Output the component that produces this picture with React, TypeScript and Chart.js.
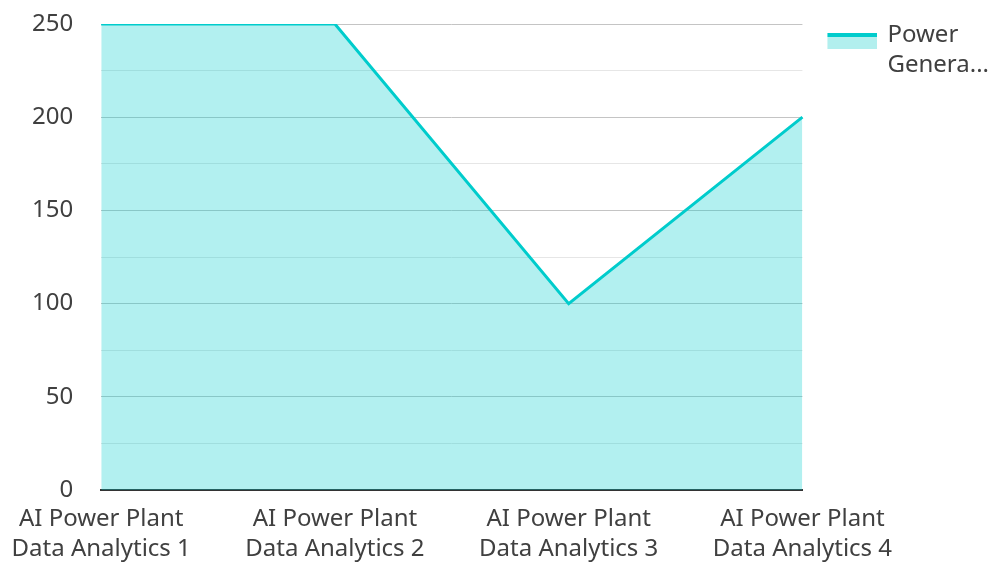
import React, { useEffect, useRef } from 'react';
import { Chart, registerables } from 'chart.js';

Chart.register(...registerables);

const categories: string[][] = [
  ['AI Power Plant', 'Data Analytics 1'],
  ['AI Power Plant', 'Data Analytics 2'],
  ['AI Power Plant', 'Data Analytics 3'],
  ['AI Power Plant', 'Data Analytics 4'],
];
const seriesLabel = 'Power Generation';
const powerValues = [250, 250, 100, 200];
const yMin = 0;
const yMax = 250;
const yStep = 25;
const yLabelStep = 50;

const LINE = '#00CCCC';
const FILL = 'rgba(0, 204, 204, 0.3)';
const TEXT = '#404040';
const FONT = "'Noto Sans', 'Open Sans', sans-serif";
const FONT_SPEC = { family: FONT, size: 24, lineHeight: 1.25 };

function legendText(label: string): string[] {
  const words = label.split(' ');
  const first = words[0];
  const rest = words.slice(1).join(' ');
  return [first, rest.length > 6 ? rest.slice(0, 6) + '...' : rest];
}

function makeLegendSwatch(): HTMLCanvasElement {
  const c = document.createElement('canvas');
  c.width = 54;
  c.height = 28;
  const ctx = c.getContext('2d')!;
  ctx.fillStyle = '#B2EFEE';
  ctx.fillRect(4, 12, 50, 16);
  ctx.fillStyle = LINE;
  ctx.fillRect(4, 12, 50, 4);
  return c;
}

export default function App() {
  const ref = useRef<HTMLCanvasElement | null>(null);

  useEffect(() => {
    if (!ref.current) return;
    const swatch = makeLegendSwatch();
    const chart = new Chart(ref.current, {
      type: 'line',
      data: {
        labels: categories,
        datasets: [
          {
            label: seriesLabel,
            data: powerValues,
            borderColor: LINE,
            backgroundColor: FILL,
            borderWidth: 3,
            fill: 'origin',
            pointRadius: 0,
            pointHoverRadius: 0,
            tension: 0,
          },
        ],
      },
      options: {
        animation: false,
        responsive: true,
        maintainAspectRatio: false,
        layout: { padding: { left: 23, right: -7, top: 0, bottom: 0 } },
        plugins: {
          tooltip: { enabled: false },
          legend: {
            position: 'right',
            align: 'start',
            labels: {
              color: TEXT,
              font: FONT_SPEC,
              usePointStyle: true,
              pointStyleWidth: 50,
              padding: 23,
              generateLabels: (ch: any) =>
                ch.data.datasets.map((ds: any, i: number) => ({
                  text: legendText(ds.label),
                  pointStyle: swatch,
                  fillStyle: FILL,
                  strokeStyle: LINE,
                  lineWidth: 0,
                  hidden: false,
                  datasetIndex: i,
                  fontColor: TEXT,
                })),
            },
          },
        },
        scales: {
          x: {
            grid: {
              display: true,
              drawOnChartArea: false,
              drawTicks: true,
              tickLength: 14,
              color: 'rgba(0,0,0,0)',
              tickColor: 'rgba(0,0,0,0)',
            },
            border: { display: true, color: '#333333', width: 2 },
            ticks: {
              color: TEXT,
              font: FONT_SPEC,
              padding: 0,
              maxRotation: 0,
              autoSkip: false,
            },
          },
          y: {
            min: yMin,
            max: yMax,
            grid: {
              drawTicks: true,
              tickLength: 19,
              tickColor: 'rgba(0,0,0,0)',
              color: (c: any) =>
                c.tick && c.tick.value % yLabelStep === 0 ? '#C4C4C4' : '#E6E6E6',
              lineWidth: 1,
            },
            border: { display: false },
            ticks: {
              stepSize: yStep,
              color: TEXT,
              font: FONT_SPEC,
              padding: 9,
              autoSkip: false,
              callback: (v: any) => (Number(v) % yLabelStep === 0 ? String(v) : ''),
            },
          },
        },
      },
    });
    return () => chart.destroy();
  }, []);

  return (
    <div style={{ position: 'absolute', left: 0, top: 0, width: 992, height: 564 }}>
      <canvas ref={ref} />
    </div>
  );
}
